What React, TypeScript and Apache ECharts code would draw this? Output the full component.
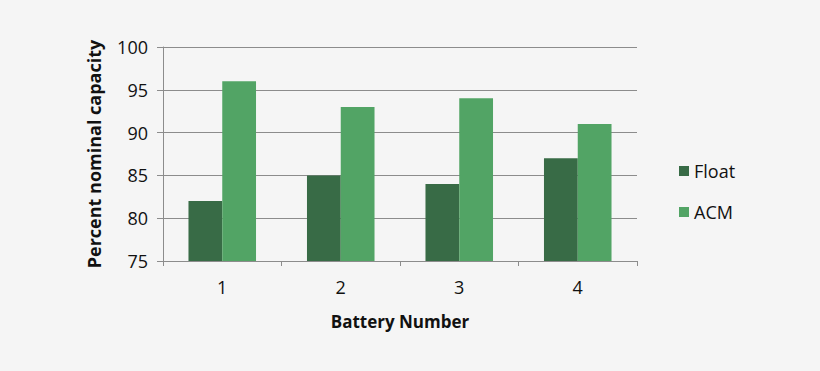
import React, { useEffect, useRef } from "react";
import * as echarts from "echarts";

const categories = ["1", "2", "3", "4"];
const floatValues = [82, 85, 84, 87];
const acmValues = [96, 93, 94, 91];
const seriesNames = ["Float", "ACM"];

export default function App() {
  const ref = useRef<HTMLDivElement>(null);
  useEffect(() => {
    document.body.style.margin = "0";
    const chart = echarts.init(ref.current!, null, { renderer: "svg" });
    const font = "'Open Sans', 'Liberation Sans', sans-serif";
    chart.setOption({
      animation: false,
      backgroundColor: "#f5f5f5",
      textStyle: { fontFamily: font },
      grid: { left: 163, right: 183, top: 47, bottom: 110 },
      legend: {
        orient: "vertical",
        left: 674,
        top: 157,
        itemWidth: 10,
        itemHeight: 10,
        itemGap: 23,
        icon: "rect",
        data: seriesNames,
        textStyle: { fontSize: 18, color: "#111", fontFamily: font },
      },
      xAxis: {
        type: "category",
        data: categories,
        name: "Battery Number",
        nameLocation: "middle",
        nameGap: 52,
        nameTextStyle: { fontSize: 17, fontWeight: "bold", color: "#111", fontFamily: font },
        axisLine: { lineStyle: { color: "#8c8c8c", width: 1 } },
        axisTick: { show: true, length: 5, lineStyle: { color: "#8c8c8c" } },
        axisLabel: { fontSize: 18, color: "#111", margin: 17, fontFamily: font },
      },
      yAxis: {
        type: "value",
        min: 75,
        max: 100,
        interval: 5,
        name: "Percent nominal capacity",
        nameLocation: "middle",
        nameGap: 60,
        nameRotate: 90,
        nameTextStyle: { fontSize: 18, fontWeight: "bold", color: "#111", fontFamily: font },
        axisLine: { show: true, lineStyle: { color: "#8c8c8c", width: 1 } },
        axisTick: { show: true, length: 6, lineStyle: { color: "#8c8c8c" } },
        axisLabel: { fontSize: 18, color: "#111", margin: 15, fontFamily: font },
        splitLine: { lineStyle: { color: "#8c8c8c", width: 1 } },
      },
      series: [
        {
          name: seriesNames[0],
          type: "bar",
          data: floatValues,
          itemStyle: { color: "#386b46" },
          barGap: "0%",
          barCategoryGap: "43%",
        },
        {
          name: seriesNames[1],
          type: "bar",
          data: acmValues,
          itemStyle: { color: "#52a465" },
          barGap: "0%",
          barCategoryGap: "43%",
        },
      ],
    });
    return () => chart.dispose();
  }, []);
  return <div ref={ref} style={{ width: 820, height: 371 }} />;
}
